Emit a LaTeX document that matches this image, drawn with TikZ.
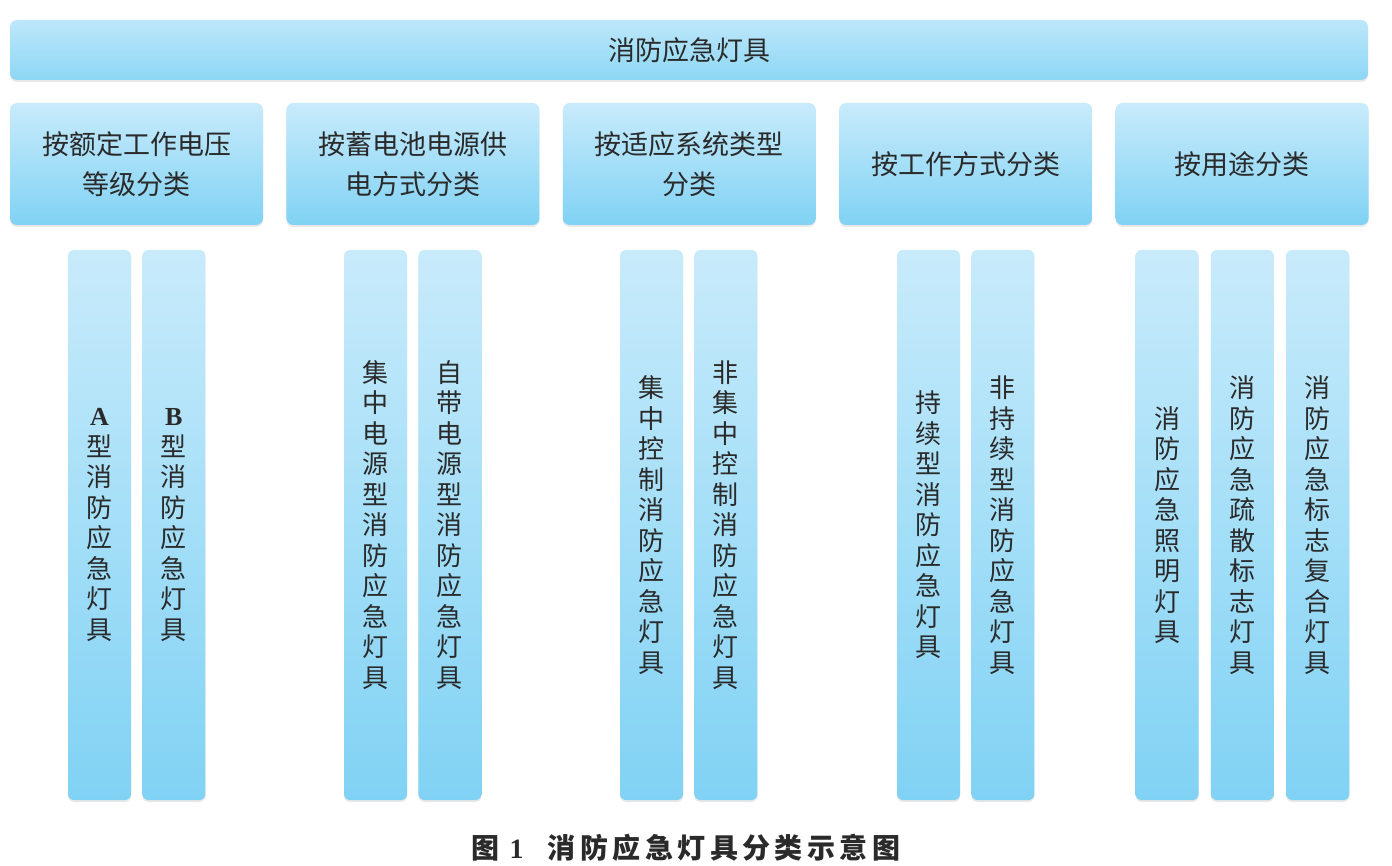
\documentclass[tikz,border=0pt]{standalone}
\usepackage{fontspec}
\setmainfont{Liberation Serif}
\newfontfamily\cjk{Noto Sans CJK SC}
\usetikzlibrary{positioning,shadows}
\definecolor{boxtop}{HTML}{C8EBFB}
\definecolor{boxbot}{HTML}{80D2F4}
\definecolor{bartop}{HTML}{BDE7FA}
\definecolor{barbot}{HTML}{8DD7F5}
\definecolor{txt}{HTML}{2A2A2A}

\begin{document}
\begin{tikzpicture}[x=1pt,y=-1pt,
	barstyle/.style={rounded corners=7pt, top color=bartop, bottom color=barbot,
	inner sep=0pt, text=txt, drop shadow={shadow xshift=0pt, shadow yshift=-2pt, opacity=0.18},
	minimum width=1358pt, minimum height=60pt, font=\cjk\fontsize{27}{30}\selectfont},
	catstyle/.style={barstyle, minimum width=253pt, minimum height=122pt, align=center,
	top color=boxtop, bottom color=boxbot, font=\cjk\fontsize{27}{40}\selectfont},
	colstyle/.style={barstyle, rounded corners=6pt, minimum width=63pt, minimum height=550pt,
	align=center, top color=boxtop, bottom color=boxbot, font=\cjk\fontsize{26}{30.5}\selectfont},
	]
	\useasboundingbox (0,0) rectangle (1392,866);
	\fill[white] (0,0) rectangle (1392,866);

	\node[barstyle] (top) at (689,50) {消防应急灯具};

	\node[catstyle] (k1) at (136.5,164) {按额定工作电压\\等级分类};
	\node[catstyle] (k2) [right=23pt of k1] {按蓄电池电源供\\电方式分类};
	\node[catstyle] (k3) [right=23pt of k2] {按适应系统类型\\分类};
	\node[catstyle] (k4) [right=23pt of k3] {按工作方式分类};
	\node[catstyle] (k5) [right=23pt of k4] {按用途分类};

	\node[colstyle] (a1) at (99.5,525) {{\rmfamily\bfseries A}\\型\\消\\防\\应\\急\\灯\\具};
	\node[colstyle] (a2) [right=11pt of a1] {{\rmfamily\bfseries B}\\型\\消\\防\\应\\急\\灯\\具};

	\node[colstyle] (b1) at (375.5,525) {集\\中\\电\\源\\型\\消\\防\\应\\急\\灯\\具};
	\node[colstyle] (b2) [right=11pt of b1] {自\\带\\电\\源\\型\\消\\防\\应\\急\\灯\\具};

	\node[colstyle] (c1) at (651.5,525) {集\\中\\控\\制\\消\\防\\应\\急\\灯\\具};
	\node[colstyle] (c2) [right=11pt of c1] {非\\集\\中\\控\\制\\消\\防\\应\\急\\灯\\具};

	\node[colstyle] (d1) at (928.5,525) {持\\续\\型\\消\\防\\应\\急\\灯\\具};
	\node[colstyle] (d2) [right=11pt of d1] {非\\持\\续\\型\\消\\防\\应\\急\\灯\\具};

	\node[colstyle] (e1) at (1167,525) {消\\防\\应\\急\\照\\明\\灯\\具};
	\node[colstyle] (e2) [right=12pt of e1] {消\\防\\应\\急\\疏\\散\\标\\志\\灯\\具};
	\node[colstyle] (e3) [right=12pt of e2] {消\\防\\应\\急\\标\\志\\复\\合\\灯\\具};

	\node[text=txt, font=\cjk\bfseries\fontsize{28}{30}\selectfont] (cap) at (686,848)
	{图\hspace{10pt}{\rmfamily\bfseries 1}\hspace{24pt}{\addfontfeatures{LetterSpace=16}消防应急灯具分类示意图}};
\end{tikzpicture}
\end{document}
